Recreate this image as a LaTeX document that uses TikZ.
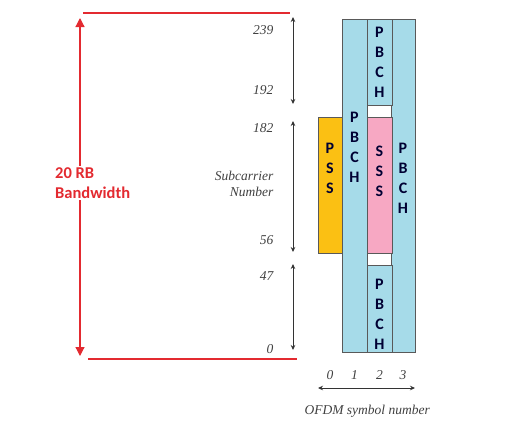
\documentclass[tikz,border=0pt]{standalone}
\usepackage{fontspec}
\setmainfont{Liberation Serif}
\newfontfamily\calibri{Carlito}
\usetikzlibrary{arrows.meta,positioning}

\definecolor{pbchblue}{HTML}{A6DBE9}
\definecolor{ssspink}{HTML}{F7A8C3}
\definecolor{pssorange}{HTML}{FBC013}
\definecolor{bwred}{HTML}{E32A30}
\definecolor{boxgray}{HTML}{595959}

\begin{document}
\begin{tikzpicture}[x=1pt,y=-1pt,
    block/.style={draw=boxgray,line width=1pt,anchor=north west,inner sep=0pt,minimum width=24pt},
    chan/.style={font=\calibri\bfseries\fontsize{16}{20}\selectfont,align=center,text=black!80!blue},
    num/.style={font=\itshape\fontsize{13.5}{16}\selectfont,anchor=east,text=black!75,align=right},
    span/.style={<->,>={Stealth[length=5pt,width=4.5pt]},black!80,line width=0.8pt}]

  \useasboundingbox (0,0) rectangle (521,440);

  % resource blocks
  \node[block,fill=pssorange,minimum height=136pt] (pss) at (318,117) {};
  \node[block,fill=pbchblue,minimum width=25pt,minimum height=333pt] (sym1) at (342,19) {};
  \node[block,fill=pbchblue,minimum height=333pt] (sym3) at (391,19) {};
  \node[block,fill=pbchblue,minimum width=25pt,minimum height=86pt] (pbchtop) at (367,19) {};
  \node[block,fill=ssspink,minimum width=25pt,minimum height=136pt] (sss) at (367,117) {};
  \node[block,fill=pbchblue,minimum width=25pt,minimum height=87pt] (pbchbot) at (367,265) {};

  \node[chan] (psslbl) at (330,168) {P\\S\\S};
  \node[chan] (sym1lbl) at (354.5,147) {P\\B\\C\\H};
  \node[chan] (toplbl) at (379.5,62) {P\\B\\C\\H};
  \node[chan] (ssslbl) at (379.5,171) {S\\S\\S};
  \node[chan] (botlbl) at (379.5,314) {P\\B\\C\\H};
  \node[chan] (sym3lbl) at (403,178) {P\\B\\C\\H};

  % bandwidth
  \coordinate (bwtopl) at (83,13);
  \coordinate (bwtopr) at (290,13);
  \coordinate (bwbotl) at (88,359);
  \coordinate (bwbotr) at (297,359);
  \coordinate (bwup) at (80,18);
  \coordinate (bwdown) at (80,356);
  \draw[draw=bwred,line width=1.4pt] (bwtopl) -- (bwtopr);
  \draw[draw=bwred,line width=1.4pt] (bwbotl) -- (bwbotr);
  \draw[draw=bwred,fill=bwred,line width=1.2pt,<->,>={Triangle[length=9pt,width=9pt]}] (bwup) -- (bwdown);
  \node[fill=white,text=bwred,font=\calibri\bfseries\fontsize{16.5}{20}\selectfont,align=left,inner sep=2pt,anchor=west] (bwlbl) at (53,183) {20 RB\\Bandwidth};

  % subcarrier ranges
  \coordinate (r1a) at (293,17);
  \coordinate (r1b) at (293,104);
  \coordinate (r2a) at (293,121);
  \coordinate (r2b) at (293,252);
  \coordinate (r3a) at (293,264);
  \coordinate (r3b) at (293,350);
  \draw[span] (r1a) -- (r1b);
  \draw[span] (r2a) -- (r2b);
  \draw[span] (r3a) -- (r3b);

  \node[num] (n239) at (277,30) {239};
  \node[num] (n192) at (277,90) {192};
  \node[num] (n182) at (277,128) {182};
  \node[num] (nsub) at (277,184) {Subcarrier\\Number};
  \node[num] (n56) at (277,240) {56};
  \node[num] (n47) at (277,276) {47};
  \node[num] (n0) at (277,349) {0};

  % OFDM symbols
  \foreach \s/\x in {0/330,1/354.5,2/379.5,3/403}
    \node[num,anchor=center] (s\s) at (\x,375) {\s};
  \coordinate (syma) at (318,388);
  \coordinate (symb) at (415,388);
  \draw[span] (syma) -- (symb);
  \node[num,anchor=west] (symlbl) at (301,411) {OFDM symbol number};

\end{tikzpicture}
\end{document}
